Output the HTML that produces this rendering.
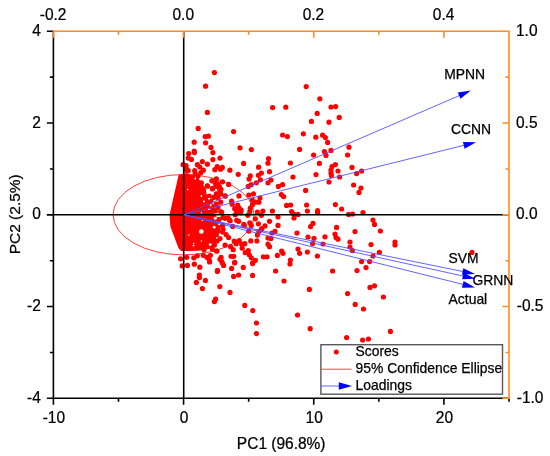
<!DOCTYPE html>
<html lang="en"><head><meta charset="utf-8"><title>PCA biplot</title>
<style>html,body{margin:0;padding:0;background:#fff}body{width:550px;height:456px;overflow:hidden}svg{display:block}text{font-family:"Liberation Sans",sans-serif;fill:#000;stroke:#000;stroke-width:.25px}.t{font-size:16.3px}.s{font-size:13.9px}</style></head><body>
<svg width="550" height="456" viewBox="0 0 550 456">
<rect width="550" height="456" fill="#fff"/>
<ellipse cx="183.6" cy="214.7" rx="70.5" ry="40.2" fill="none" stroke="#ff4040" stroke-width="1"/>
<g fill="#ff0000">
<polygon points="178.6,175 186,173 194,175.5 201,181.5 206,189 207,200 209,210 216,214.5 218,225 217,235 215,242 213,246 209,249 200,250.5 190,251 181,251 178.5,248 176,241.5 173.6,235 170.4,226.5 169.5,215"/>
<circle cx="214.4" cy="72.6" r="2.6"/>
<circle cx="205.6" cy="86.2" r="2.6"/>
<circle cx="207.4" cy="112.4" r="2.6"/>
<circle cx="272.6" cy="107.6" r="2.6"/>
<circle cx="198.2" cy="128.4" r="2.6"/>
<circle cx="233.6" cy="131.6" r="2.6"/>
<circle cx="205.2" cy="136.6" r="2.6"/>
<circle cx="208.4" cy="136.2" r="2.6"/>
<circle cx="194.2" cy="142.2" r="2.6"/>
<circle cx="205.6" cy="142.8" r="2.6"/>
<circle cx="211" cy="147.4" r="2.6"/>
<circle cx="240" cy="147.8" r="2.6"/>
<circle cx="251.4" cy="149.6" r="2.6"/>
<circle cx="194.2" cy="151" r="2.6"/>
<circle cx="306.2" cy="86.6" r="2.6"/>
<circle cx="319.8" cy="98.8" r="2.6"/>
<circle cx="285.8" cy="107.2" r="2.6"/>
<circle cx="331" cy="107" r="2.6"/>
<circle cx="335.6" cy="106.6" r="2.6"/>
<circle cx="317.2" cy="113.4" r="2.6"/>
<circle cx="339.2" cy="117.4" r="2.6"/>
<circle cx="311.4" cy="121.4" r="2.6"/>
<circle cx="329" cy="122.2" r="2.6"/>
<circle cx="282.6" cy="135" r="2.6"/>
<circle cx="287.4" cy="136.6" r="2.6"/>
<circle cx="303.4" cy="133.8" r="2.6"/>
<circle cx="315.8" cy="137.2" r="2.6"/>
<circle cx="322.6" cy="135.2" r="2.6"/>
<circle cx="325.4" cy="137.6" r="2.6"/>
<circle cx="327.6" cy="142.4" r="2.6"/>
<circle cx="349" cy="147.2" r="2.6"/>
<circle cx="299.6" cy="149.4" r="2.6"/>
<circle cx="331" cy="150.4" r="2.6"/>
<circle cx="324.4" cy="151.6" r="2.6"/>
<circle cx="212.9" cy="152.6" r="2.6"/>
<circle cx="188.7" cy="153.6" r="2.6"/>
<circle cx="194.4" cy="152.6" r="2.6"/>
<circle cx="188.2" cy="158.1" r="2.6"/>
<circle cx="191.4" cy="159.4" r="2.6"/>
<circle cx="220" cy="158.1" r="2.6"/>
<circle cx="212.9" cy="159.6" r="2.6"/>
<circle cx="202.3" cy="161.6" r="2.6"/>
<circle cx="207.3" cy="164.2" r="2.6"/>
<circle cx="197.4" cy="164.7" r="2.6"/>
<circle cx="183.1" cy="164.7" r="2.6"/>
<circle cx="186.1" cy="165.7" r="2.6"/>
<circle cx="199.8" cy="167" r="2.6"/>
<circle cx="217.2" cy="166.7" r="2.6"/>
<circle cx="222.3" cy="167.4" r="2.6"/>
<circle cx="214.9" cy="169.7" r="2.6"/>
<circle cx="220.5" cy="169.2" r="2.6"/>
<circle cx="203.3" cy="170.2" r="2.6"/>
<circle cx="194.7" cy="170.7" r="2.6"/>
<circle cx="188.2" cy="170.7" r="2.6"/>
<circle cx="200.8" cy="172.7" r="2.6"/>
<circle cx="195.2" cy="173.8" r="2.6"/>
<circle cx="186.1" cy="170.2" r="2.6"/>
<circle cx="216.4" cy="178.8" r="2.6"/>
<circle cx="211.9" cy="180.8" r="2.6"/>
<circle cx="222.5" cy="181.8" r="2.6"/>
<circle cx="196.7" cy="179.8" r="2.6"/>
<circle cx="201.3" cy="182.8" r="2.6"/>
<circle cx="207.3" cy="185.9" r="2.6"/>
<circle cx="217.4" cy="183.8" r="2.6"/>
<circle cx="219.4" cy="187.4" r="2.6"/>
<circle cx="212.4" cy="188.4" r="2.6"/>
<circle cx="200.3" cy="187.4" r="2.6"/>
<circle cx="196.2" cy="185.4" r="2.6"/>
<circle cx="243.6" cy="163.4" r="2.6"/>
<circle cx="268.5" cy="158.6" r="2.6"/>
<circle cx="268" cy="163.2" r="2.6"/>
<circle cx="258.6" cy="167.2" r="2.6"/>
<circle cx="229.9" cy="170.2" r="2.6"/>
<circle cx="238.2" cy="174.3" r="2.6"/>
<circle cx="261.4" cy="173.1" r="2.6"/>
<circle cx="258.4" cy="175.3" r="2.6"/>
<circle cx="250.3" cy="175.8" r="2.6"/>
<circle cx="249.1" cy="179.1" r="2.6"/>
<circle cx="269.5" cy="171.7" r="2.6"/>
<circle cx="260.4" cy="179.8" r="2.6"/>
<circle cx="256.4" cy="182.8" r="2.6"/>
<circle cx="251.3" cy="184.6" r="2.6"/>
<circle cx="248.3" cy="186.4" r="2.6"/>
<circle cx="268" cy="182.8" r="2.6"/>
<circle cx="228.6" cy="184.4" r="2.6"/>
<circle cx="218" cy="183.8" r="2.6"/>
<circle cx="219.5" cy="187.4" r="2.6"/>
<circle cx="221" cy="189.4" r="2.6"/>
<circle cx="216" cy="186.4" r="2.6"/>
<circle cx="225.1" cy="195.9" r="2.6"/>
<circle cx="239" cy="195.9" r="2.6"/>
<circle cx="248.8" cy="195.1" r="2.6"/>
<circle cx="253.5" cy="193.9" r="2.6"/>
<circle cx="259.9" cy="198.1" r="2.6"/>
<circle cx="231.6" cy="201.1" r="2.6"/>
<circle cx="232.2" cy="204.2" r="2.6"/>
<circle cx="252.3" cy="200.1" r="2.6"/>
<circle cx="255.4" cy="202.2" r="2.6"/>
<circle cx="258.9" cy="202.2" r="2.6"/>
<circle cx="252.5" cy="204.7" r="2.6"/>
<circle cx="237.7" cy="205.2" r="2.6"/>
<circle cx="234.7" cy="208.7" r="2.6"/>
<circle cx="239.2" cy="208.2" r="2.6"/>
<circle cx="241.2" cy="210.2" r="2.6"/>
<circle cx="236.7" cy="211.7" r="2.6"/>
<circle cx="240.7" cy="212.7" r="2.6"/>
<circle cx="250.3" cy="208.2" r="2.6"/>
<circle cx="249.8" cy="211.7" r="2.6"/>
<circle cx="257.4" cy="212" r="2.6"/>
<circle cx="262.9" cy="211" r="2.6"/>
<circle cx="221.6" cy="212.2" r="2.6"/>
<circle cx="235.2" cy="214.8" r="2.6"/>
<circle cx="247.8" cy="215.3" r="2.6"/>
<circle cx="261.4" cy="215.3" r="2.6"/>
<circle cx="255.4" cy="218.8" r="2.6"/>
<circle cx="269.5" cy="221.3" r="2.6"/>
<circle cx="228.1" cy="217.8" r="2.6"/>
<circle cx="223" cy="217.3" r="2.6"/>
<circle cx="218" cy="219.8" r="2.6"/>
<circle cx="230.1" cy="220.8" r="2.6"/>
<circle cx="236.7" cy="220.3" r="2.6"/>
<circle cx="238.7" cy="221.3" r="2.6"/>
<circle cx="243.8" cy="224.4" r="2.6"/>
<circle cx="249.8" cy="222.8" r="2.6"/>
<circle cx="251.3" cy="225.4" r="2.6"/>
<circle cx="258.4" cy="223.8" r="2.6"/>
<circle cx="265" cy="225.9" r="2.6"/>
<circle cx="261.4" cy="229.4" r="2.6"/>
<circle cx="232.7" cy="226.4" r="2.6"/>
<circle cx="222.6" cy="225.4" r="2.6"/>
<circle cx="218" cy="227.4" r="2.6"/>
<circle cx="223" cy="229.4" r="2.6"/>
<circle cx="244.3" cy="225.5" r="2.6"/>
<circle cx="248.8" cy="231.1" r="2.6"/>
<circle cx="258.9" cy="231.6" r="2.6"/>
<circle cx="261.9" cy="228.5" r="2.6"/>
<circle cx="257.4" cy="235.1" r="2.6"/>
<circle cx="256.9" cy="240.9" r="2.6"/>
<circle cx="250.8" cy="240.9" r="2.6"/>
<circle cx="268" cy="238.1" r="2.6"/>
<circle cx="268" cy="244.2" r="2.6"/>
<circle cx="269.5" cy="246.7" r="2.6"/>
<circle cx="217" cy="227" r="2.6"/>
<circle cx="218" cy="231" r="2.6"/>
<circle cx="222.6" cy="232" r="2.6"/>
<circle cx="226.1" cy="234.6" r="2.6"/>
<circle cx="228.6" cy="237.6" r="2.6"/>
<circle cx="220" cy="238.6" r="2.6"/>
<circle cx="215" cy="241" r="2.6"/>
<circle cx="234.2" cy="241.1" r="2.6"/>
<circle cx="239.2" cy="240.6" r="2.6"/>
<circle cx="236.2" cy="243.7" r="2.6"/>
<circle cx="241.7" cy="244.2" r="2.6"/>
<circle cx="244.8" cy="243.7" r="2.6"/>
<circle cx="225.1" cy="245.2" r="2.6"/>
<circle cx="230.6" cy="246.7" r="2.6"/>
<circle cx="233.2" cy="249.7" r="2.6"/>
<circle cx="242.2" cy="248.2" r="2.6"/>
<circle cx="216.5" cy="251" r="2.6"/>
<circle cx="248.3" cy="250.7" r="2.6"/>
<circle cx="245.3" cy="252.7" r="2.6"/>
<circle cx="249.3" cy="254.8" r="2.6"/>
<circle cx="251.3" cy="257.8" r="2.6"/>
<circle cx="255.4" cy="260.3" r="2.6"/>
<circle cx="252.8" cy="262.8" r="2.6"/>
<circle cx="263.4" cy="256.8" r="2.6"/>
<circle cx="267" cy="256.8" r="2.6"/>
<circle cx="231.1" cy="256.3" r="2.6"/>
<circle cx="233.7" cy="256.3" r="2.6"/>
<circle cx="221.1" cy="257.3" r="2.6"/>
<circle cx="221.6" cy="261.3" r="2.6"/>
<circle cx="223.6" cy="265.4" r="2.6"/>
<circle cx="234.7" cy="262.3" r="2.6"/>
<circle cx="243.3" cy="267.4" r="2.6"/>
<circle cx="231.6" cy="268.4" r="2.6"/>
<circle cx="217.5" cy="270.4" r="2.6"/>
<circle cx="180.6" cy="258.8" r="2.6"/>
<circle cx="186.7" cy="257.3" r="2.6"/>
<circle cx="182.2" cy="265.9" r="2.6"/>
<circle cx="187.4" cy="265.4" r="2.6"/>
<circle cx="193.8" cy="257.8" r="2.6"/>
<circle cx="197.3" cy="255.8" r="2.6"/>
<circle cx="194.3" cy="264.2" r="2.6"/>
<circle cx="199.8" cy="267.2" r="2.6"/>
<circle cx="203.3" cy="255.3" r="2.6"/>
<circle cx="209.4" cy="260.3" r="2.6"/>
<circle cx="210.4" cy="255.3" r="2.6"/>
<circle cx="206.9" cy="257.3" r="2.6"/>
<circle cx="217" cy="251" r="2.6"/>
<circle cx="212.4" cy="249.2" r="2.6"/>
<circle cx="220" cy="259.3" r="2.6"/>
<circle cx="313.6" cy="155" r="2.6"/>
<circle cx="326" cy="155.4" r="2.6"/>
<circle cx="347.6" cy="155" r="2.6"/>
<circle cx="290.4" cy="163" r="2.6"/>
<circle cx="319.4" cy="163.4" r="2.6"/>
<circle cx="335.4" cy="164.6" r="2.6"/>
<circle cx="332" cy="166.6" r="2.6"/>
<circle cx="352" cy="167.4" r="2.6"/>
<circle cx="331" cy="170" r="2.6"/>
<circle cx="338" cy="171" r="2.6"/>
<circle cx="331" cy="173" r="2.6"/>
<circle cx="361.6" cy="171" r="2.6"/>
<circle cx="356.6" cy="173.6" r="2.6"/>
<circle cx="316" cy="174.6" r="2.6"/>
<circle cx="331.4" cy="175.4" r="2.6"/>
<circle cx="293" cy="177" r="2.6"/>
<circle cx="339.6" cy="177" r="2.6"/>
<circle cx="271" cy="180" r="2.6"/>
<circle cx="329" cy="182" r="2.6"/>
<circle cx="282.6" cy="184.6" r="2.6"/>
<circle cx="278.4" cy="186.4" r="2.6"/>
<circle cx="353.6" cy="185" r="2.6"/>
<circle cx="361" cy="188" r="2.6"/>
<circle cx="305.6" cy="190.4" r="2.6"/>
<circle cx="359" cy="192.4" r="2.6"/>
<circle cx="281.4" cy="194.6" r="2.6"/>
<circle cx="283.6" cy="196.6" r="2.6"/>
<circle cx="286.6" cy="205.4" r="2.6"/>
<circle cx="290.6" cy="205" r="2.6"/>
<circle cx="306.6" cy="205" r="2.6"/>
<circle cx="335.4" cy="204.6" r="2.6"/>
<circle cx="341.6" cy="209" r="2.6"/>
<circle cx="272.4" cy="211" r="2.6"/>
<circle cx="291.6" cy="211.6" r="2.6"/>
<circle cx="307.4" cy="211" r="2.6"/>
<circle cx="317.6" cy="210.6" r="2.6"/>
<circle cx="317.6" cy="212.6" r="2.6"/>
<circle cx="363" cy="212.6" r="2.6"/>
<circle cx="293.6" cy="214" r="2.6"/>
<circle cx="298" cy="214.4" r="2.6"/>
<circle cx="348.6" cy="214.4" r="2.6"/>
<circle cx="352.6" cy="214" r="2.6"/>
<circle cx="278" cy="217" r="2.6"/>
<circle cx="294" cy="218" r="2.6"/>
<circle cx="373" cy="220" r="2.6"/>
<circle cx="313" cy="223.4" r="2.6"/>
<circle cx="310.6" cy="226.6" r="2.6"/>
<circle cx="278" cy="225.4" r="2.6"/>
<circle cx="374.5" cy="224.4" r="2.6"/>
<circle cx="336.6" cy="227.4" r="2.6"/>
<circle cx="275" cy="231.4" r="2.6"/>
<circle cx="297" cy="233" r="2.6"/>
<circle cx="355" cy="231.6" r="2.6"/>
<circle cx="335" cy="234" r="2.6"/>
<circle cx="272" cy="233" r="2.6"/>
<circle cx="325" cy="236.8" r="2.6"/>
<circle cx="336" cy="237.6" r="2.6"/>
<circle cx="308" cy="237" r="2.6"/>
<circle cx="314" cy="238.3" r="2.6"/>
<circle cx="338" cy="239.2" r="2.6"/>
<circle cx="350" cy="242" r="2.6"/>
<circle cx="271" cy="238.5" r="2.6"/>
<circle cx="380.4" cy="231" r="2.6"/>
<circle cx="395" cy="242" r="2.6"/>
<circle cx="312.6" cy="243.6" r="2.6"/>
<circle cx="323" cy="244" r="2.6"/>
<circle cx="371" cy="244.6" r="2.6"/>
<circle cx="350" cy="247" r="2.6"/>
<circle cx="352.4" cy="250.6" r="2.6"/>
<circle cx="298" cy="249" r="2.6"/>
<circle cx="281.6" cy="251" r="2.6"/>
<circle cx="283" cy="253.4" r="2.6"/>
<circle cx="299.6" cy="253.4" r="2.6"/>
<circle cx="307.4" cy="252" r="2.6"/>
<circle cx="277.4" cy="255.4" r="2.6"/>
<circle cx="317.4" cy="256" r="2.6"/>
<circle cx="373" cy="256" r="2.6"/>
<circle cx="290.4" cy="260" r="2.6"/>
<circle cx="290" cy="264" r="2.6"/>
<circle cx="361.6" cy="261.6" r="2.6"/>
<circle cx="369.6" cy="261.6" r="2.6"/>
<circle cx="366" cy="267.6" r="2.6"/>
<circle cx="357" cy="270.6" r="2.6"/>
<circle cx="275.6" cy="271" r="2.6"/>
<circle cx="332.6" cy="271" r="2.6"/>
<circle cx="284" cy="281" r="2.6"/>
<circle cx="309.4" cy="289.4" r="2.6"/>
<circle cx="370" cy="287.4" r="2.6"/>
<circle cx="374.5" cy="285.8" r="2.6"/>
<circle cx="347.6" cy="293.6" r="2.6"/>
<circle cx="355.2" cy="304.4" r="2.6"/>
<circle cx="363.5" cy="309" r="2.6"/>
<circle cx="297.5" cy="315" r="2.6"/>
<circle cx="310.2" cy="328.7" r="2.6"/>
<circle cx="395" cy="245" r="2.6"/>
<circle cx="379.4" cy="252.4" r="2.6"/>
<circle cx="472" cy="252.4" r="2.6"/>
<circle cx="383.4" cy="297" r="2.6"/>
<circle cx="209.6" cy="262" r="2.6"/>
<circle cx="222.4" cy="263" r="2.6"/>
<circle cx="234.6" cy="263" r="2.6"/>
<circle cx="252.6" cy="263.6" r="2.6"/>
<circle cx="217.4" cy="271.4" r="2.6"/>
<circle cx="199.4" cy="275" r="2.6"/>
<circle cx="199.4" cy="277.6" r="2.6"/>
<circle cx="205.4" cy="280.4" r="2.6"/>
<circle cx="196.4" cy="282.4" r="2.6"/>
<circle cx="233.6" cy="276.4" r="2.6"/>
<circle cx="238.6" cy="275" r="2.6"/>
<circle cx="252.6" cy="275.4" r="2.6"/>
<circle cx="202.4" cy="288.6" r="2.6"/>
<circle cx="219.8" cy="286.6" r="2.6"/>
<circle cx="230" cy="292.4" r="2.6"/>
<circle cx="215.6" cy="299" r="2.6"/>
<circle cx="214.4" cy="301.6" r="2.6"/>
<circle cx="244.8" cy="305.4" r="2.6"/>
<circle cx="252.8" cy="310.6" r="2.6"/>
<circle cx="256.4" cy="323" r="2.6"/>
<circle cx="256.4" cy="333.6" r="2.6"/>
<circle cx="346.6" cy="337.6" r="2.6"/>
<circle cx="362.6" cy="340" r="2.6"/>
<circle cx="368.4" cy="339" r="2.6"/>
<circle cx="390.4" cy="331.4" r="2.6"/>
<circle cx="215.4" cy="183.3" r="2.6"/>
<circle cx="207.5" cy="186" r="2.6"/>
<circle cx="218.9" cy="186.4" r="2.6"/>
<circle cx="212.4" cy="189" r="2.6"/>
<circle cx="219.8" cy="190.4" r="2.6"/>
<circle cx="216.3" cy="193.9" r="2.6"/>
<circle cx="220.7" cy="193.9" r="2.6"/>
<circle cx="225.1" cy="196" r="2.6"/>
<circle cx="209.3" cy="196" r="2.6"/>
<circle cx="213.7" cy="197.4" r="2.6"/>
<circle cx="218" cy="197.8" r="2.6"/>
<circle cx="220.7" cy="202.2" r="2.6"/>
<circle cx="216.3" cy="204" r="2.6"/>
<circle cx="211" cy="201.3" r="2.6"/>
<circle cx="206.7" cy="200.4" r="2.6"/>
<circle cx="212.8" cy="206.6" r="2.6"/>
<circle cx="218" cy="207.5" r="2.6"/>
<circle cx="220.7" cy="211.8" r="2.6"/>
<circle cx="215.4" cy="211" r="2.6"/>
<circle cx="210.2" cy="211.8" r="2.6"/>
<circle cx="204.9" cy="211.8" r="2.6"/>
<circle cx="219" cy="219.6" r="2.6"/>
<circle cx="225" cy="218.3" r="2.6"/>
<circle cx="229.5" cy="220" r="2.6"/>
<circle cx="213.7" cy="241" r="2.6"/>
<circle cx="204" cy="249.8" r="2.6"/>
<circle cx="197" cy="248" r="2.6"/>
<circle cx="192.6" cy="246.3" r="2.6"/>
<circle cx="207" cy="197" r="2.6"/>
<circle cx="209" cy="203" r="2.6"/>
<circle cx="208" cy="207" r="2.6"/>
<circle cx="213" cy="209" r="2.6"/>
<circle cx="198" cy="176" r="2.6"/>
<circle cx="216.5" cy="234.5" r="2.6"/>
<circle cx="214.5" cy="245" r="2.6"/>
<circle cx="217" cy="241" r="2.6"/>
<circle cx="213" cy="236" r="2.6"/>
<circle cx="187" cy="169.5" r="2.6"/>
</g>
<g fill="#fff"><circle cx="195.3" cy="178.5" r="0.9"/><circle cx="208.4" cy="191.6" r="2.0"/><circle cx="201.4" cy="196" r="0.9"/><circle cx="204" cy="201.6" r="1.0"/><circle cx="208.9" cy="198.7" r="0.9"/><circle cx="210.6" cy="205.3" r="1.0"/><circle cx="208.9" cy="209.2" r="0.9"/><circle cx="201.4" cy="212.7" r="0.8"/><circle cx="201.4" cy="231.5" r="2.3"/><circle cx="214.2" cy="227.2" r="1.4"/><circle cx="202.3" cy="220.5" r="0.7"/><circle cx="215.3" cy="218.2" r="1.5"/><circle cx="193.5" cy="245.5" r="0.9"/><circle cx="210.2" cy="244.6" r="1.4"/><circle cx="201.4" cy="241" r="0.8"/><circle cx="187.7" cy="189.5" r="0.8"/><circle cx="188.7" cy="235" r="0.8"/><circle cx="193.8" cy="243.2" r="0.7"/></g>
<path d="M183.7 31.3V398.3M46.9 214.8H509.0" stroke="#000" stroke-width="1.6" fill="none"/>
<g stroke="#5252ff" stroke-width="0.9" fill="none">
<line x1="183.7" y1="214.8" x2="461.62" y2="94.57"/>
<line x1="183.7" y1="214.8" x2="466.39" y2="144.71"/>
<line x1="183.7" y1="214.8" x2="465.3" y2="272.01"/>
<line x1="183.7" y1="214.8" x2="465.53" y2="276.56"/>
<line x1="183.7" y1="214.8" x2="465.4" y2="284.98"/>
</g><g fill="#0000ff">
<polygon points="470.8,90.6 460.49,98.76 457.79,92.52"/>
<polygon points="476.1,142.3 464.59,148.66 462.96,142.06"/>
<polygon points="475.1,274 461.98,274.8 463.33,268.14"/>
<polygon points="475.3,278.7 462.17,279.3 463.62,272.66"/>
<polygon points="475.1,287.4 461.95,287.63 463.6,281.03"/>
</g>
<rect x="320.9" y="344.7" width="181.6" height="49.5" fill="#fff" stroke="#585858" stroke-width="1.4"/>
<circle cx="336.3" cy="352" r="2.5" fill="#ff0000"/>
<line x1="321" y1="369.2" x2="351.5" y2="369.2" stroke="#ff4040" stroke-width="1"/>
<line x1="321" y1="386" x2="341" y2="386" stroke="#5252ff" stroke-width="0.9"/>
<polygon points="352,386 338.8,382.3 338.8,389.7" fill="#0000ff"/>
<text class="s" x="355.5" y="356.3">Scores</text>
<text class="s" x="355.5" y="373.2">95% Confidence Ellipse</text>
<text class="s" x="355.5" y="390">Loadings</text>
<path d="M53.4 30.5V399.1M53.4 398.3H509.0M46.9 31.3H53.4M49.9 77.17H53.4M46.9 123.05H53.4M49.9 168.93H53.4M46.9 214.8H53.4M49.9 260.68H53.4M46.9 306.55H53.4M49.9 352.43H53.4M46.9 398.3H53.4M53.4 398.3V404.8M118.49 398.3V401.8M183.57 398.3V404.8M248.66 398.3V401.8M313.74 398.3V404.8M378.83 398.3V401.8M443.91 398.3V404.8M509 398.3V401.8" stroke="#000" stroke-width="1.6" fill="none"/>
<path d="M52.6 31.3H509.8M509.0 31.3V399.1M502.5 31.3H509.0M505.5 77.17H509.0M502.5 123.05H509.0M505.5 168.93H509.0M502.5 214.8H509.0M505.5 260.68H509.0M502.5 306.55H509.0M505.5 352.43H509.0M502.5 398.3H509.0M53.4 31.3V37.8M118.49 31.3V34.8M183.57 31.3V37.8M248.66 31.3V34.8M313.74 31.3V37.8M378.83 31.3V34.8M443.91 31.3V37.8M509 31.3V34.8" stroke="#ff8c24" stroke-width="1.6" fill="none"/>
<text class="s" x="444.2" y="78.7">MPNN</text>
<text class="s" x="451" y="134">CCNN</text>
<text class="s" x="448.5" y="262.8">SVM</text>
<text class="s" x="472.5" y="284.6">GRNN</text>
<text class="s" x="448.6" y="303.8">Actual</text>
<text class="t" text-anchor="end" transform="translate(40.9 35.9) scale(0.951 1)">4</text>
<text class="t" text-anchor="end" transform="translate(40.9 127.65) scale(0.951 1)">2</text>
<text class="t" text-anchor="end" transform="translate(40.9 219.4) scale(0.951 1)">0</text>
<text class="t" text-anchor="end" transform="translate(40.9 311.15) scale(0.951 1)">-2</text>
<text class="t" text-anchor="end" transform="translate(40.9 402.9) scale(0.951 1)">-4</text>
<text class="t" text-anchor="middle" transform="translate(53.9 423.1) scale(0.951 1)">-10</text>
<text class="t" text-anchor="middle" transform="translate(184.07 423.1) scale(0.951 1)">0</text>
<text class="t" text-anchor="middle" transform="translate(314.24 423.1) scale(0.951 1)">10</text>
<text class="t" text-anchor="middle" transform="translate(444.41 423.1) scale(0.951 1)">20</text>
<text class="t" text-anchor="middle" transform="translate(53.1 19.9) scale(0.951 1)">-0.2</text>
<text class="t" text-anchor="middle" transform="translate(183.27 19.9) scale(0.951 1)">0.0</text>
<text class="t" text-anchor="middle" transform="translate(313.44 19.9) scale(0.951 1)">0.2</text>
<text class="t" text-anchor="middle" transform="translate(443.61 19.9) scale(0.951 1)">0.4</text>
<text class="t" transform="translate(516 35.8) scale(0.951 1)">1.0</text>
<text class="t" transform="translate(516 127.55) scale(0.951 1)">0.5</text>
<text class="t" transform="translate(516 219.3) scale(0.951 1)">0.0</text>
<text class="t" transform="translate(516.8 311.05) scale(0.951 1)">-0.5</text>
<text class="t" transform="translate(516.8 402.8) scale(0.951 1)">-1.0</text>
<text class="t" text-anchor="middle" transform="translate(281.2 449.2) scale(0.951 1)">PC1 (96.8%)</text>
<text class="t" text-anchor="middle" transform="translate(19.6 214.3) rotate(-90) scale(0.951 0.94)">PC2 (2.5%)</text>
</svg></body></html>
